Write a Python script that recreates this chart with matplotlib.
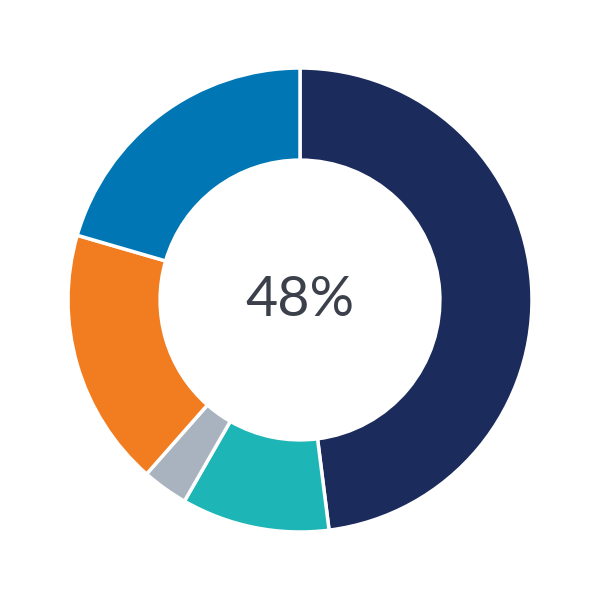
import matplotlib.pyplot as plt

# segment shares, clockwise from 12 o'clock
labels = ["Navy", "Teal", "Gray", "Orange", "Blue"]
shares = [48, 10.3, 3.2, 18, 20.5]
colors = ["#1b2b5c", "#1db5b5", "#a9b3bf", "#f27d21", "#0076b4"]
center_text = "48%"

fig = plt.figure(figsize=(6, 6), dpi=100)
ax = fig.add_axes([0, 0, 1, 1])

ax.pie(shares, colors=colors, startangle=90, counterclock=False,
       radius=1.0,
       wedgeprops=dict(width=0.397, edgecolor="white", linewidth=2.5))

ax.text(0, 0, center_text, ha="center", va="center", fontsize=40,
        color="#3b404a", family="Lato", fontweight="normal")

ax.set_xlim(-300 / 232, 300 / 232)
ax.set_ylim(-300 / 232, 300 / 232)
ax.set_aspect("equal")
ax.axis("off")

fig.savefig("out.png", dpi=100, facecolor="white")
